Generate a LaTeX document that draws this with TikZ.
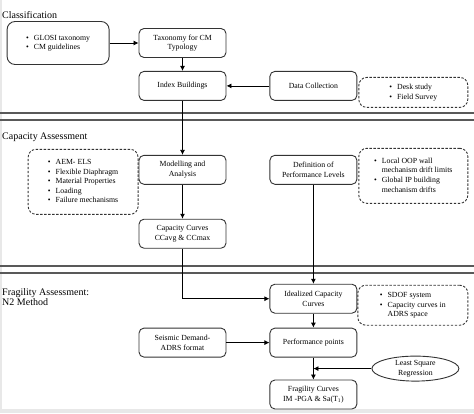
\documentclass[tikz,border=0pt]{standalone}
\usepackage{fontspec}
\setmainfont{Liberation Serif}
\usetikzlibrary{positioning,arrows.meta,shapes.geometric}
\definecolor{edge1}{HTML}{333333}
\definecolor{rule1}{HTML}{595959}
\definecolor{frame1}{HTML}{E8E8E8}
\newcommand{\bulletlist}[1]{\begin{tabular}{@{}l@{\hspace{5pt}}l@{}}#1\end{tabular}}

\begin{document}
\begin{tikzpicture}[x=1pt, y=-1pt,
  proc/.style={draw=edge1, line width=0.9pt, rounded corners=5pt, fill=white, minimum width=87pt, minimum height=29pt, align=center, inner sep=2pt, font=\fontsize{7.8}{9.6}\selectfont},
  note/.style={draw=edge1, line width=0.9pt, dash pattern=on 2.4pt off 1.6pt, rounded corners=8pt, fill=white, align=left, inner sep=2pt, font=\fontsize{7.8}{9.6}\selectfont},
  head/.style={inner sep=0pt, align=left, font=\fontsize{10}{10.5}\selectfont},
  arr/.style={-{Latex[length=5pt,width=5pt]}, line width=0.8pt, black},
  sep/.style={line width=1.3pt, rule1}]
\useasboundingbox (0,0) rectangle (474,413);
\fill[frame1] (0,0) rectangle (474,413);
\fill[white] (2,0) rectangle (474,409);

% section rules
\draw[sep] (0,113) -- (474,113);
\draw[sep] (0,120) -- (474,120);
\draw[sep] (0,266) -- (474,266);
\draw[sep] (0,273) -- (474,273);

% section titles
\node[head, anchor=base west] (hcls) at (2,18) {Classification};
\node[head, anchor=base west] (hcap) at (2,139.5) {Capacity Assessment};
\node[head, anchor=north west] (hfrag) at (2,288) {Fragility Assessment:\\N2 Method};

% main column
\node[proc] (tax) at (182.5,43) {Taxonomy for CM\\Typology};
\node[proc, below=13pt of tax] (idx) {Index Buildings};
\node[proc, below=54pt of idx] (model) {Modelling and\\Analysis};
\node[proc, below=34pt of model] (capc) {Capacity Curves\\CCavg \& CCmax};

% right column
\node[proc, right=43pt of idx] (data) {Data Collection};
\node[proc, right=43pt of model] (perfdef) {Definition of\\Performance Levels};
\node[proc, below=99pt of perfdef] (ideal) {Idealized Capacity\\Curves};
\node[proc, below=14pt of ideal] (perf) {Performance points};
\node[proc, below=22pt of perf] (frag) {Fragility Curves\\IM -PGA \& Sa(T\textsubscript{1})};
\node[proc, left=43pt of perf] (seis) {Seismic Demand-\\ADRS format};

% notes
\node[note, solid, minimum width=102pt, minimum height=43pt, left=29pt of tax] (glosi) {\bulletlist{\textbullet & GLOSI taxonomy\\ \textbullet & CM guidelines}};
\node[note, minimum width=109pt, minimum height=30pt, anchor=north west] (desk) at ([shift={(1,6)}]data.north east) {\bulletlist{\textbullet & Desk study\\ \textbullet & Field Survey}};
\node[note, minimum width=110pt, minimum height=65pt, anchor=north east] (aem) at ([shift={(0,-6)}]model.north west) {\bulletlist{\textbullet & AEM- ELS\\ \textbullet & Flexible Diaphragm\\ \textbullet & Material Properties\\ \textbullet & Loading\\ \textbullet & Failure mechanisms}};
\node[note, minimum width=109pt, minimum height=55pt, anchor=north west] (oop) at ([shift={(1,-7)}]perfdef.north east) {\bulletlist{\textbullet & Local OOP wall\\ & mechanism drift limits\\ \textbullet & Global IP building\\ & mechanism drifts}};
\node[note, minimum width=110pt, minimum height=40pt, anchor=north west] (sdof) at ([shift={(0,1)}]ideal.north east) {\bulletlist{\textbullet & SDOF system\\ \textbullet & Capacity curves in\\ & ADRS space}};
\node[ellipse, draw=edge1, line width=0.9pt, fill=white, minimum width=87pt, minimum height=25pt, inner sep=0pt, align=center, font=\fontsize{7.8}{9.6}\selectfont] (lsr) at ([shift={(102,26)}]perf.center) {Least Square\\Regression};
\coordinate (join) at (perf.south |- lsr.west);

% connectors
\draw[arr] (glosi) -- (tax);
\draw[arr] (tax) -- (idx);
\draw[arr] (data) -- (idx);
\draw[arr] (idx) -- (model);
\draw[arr] (model) -- (capc);
\draw[arr] (capc.south) |- (ideal.west);
\draw[arr] (perfdef) -- (ideal);
\draw[arr] (ideal) -- (perf);
\draw[arr] (seis) -- (perf);
\draw[arr] (perf) -- (frag);
\draw[arr] (lsr) -- (join);
\end{tikzpicture}
\end{document}
